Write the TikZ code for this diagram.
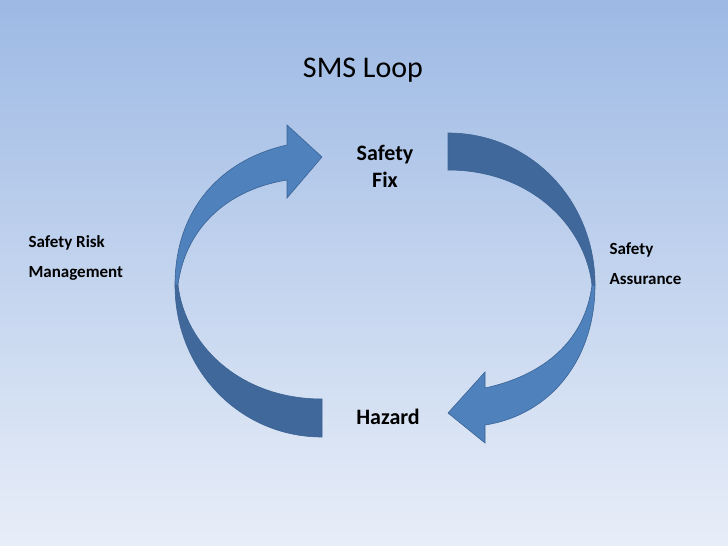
\documentclass[tikz,border=0pt]{standalone}
\usepackage{fontspec}
\setmainfont{Carlito}
\begin{document}
\begin{tikzpicture}[x=1pt,y=-1pt,
  dark/.style={fill=darkb,draw=edgeb,line width=0.6pt},
  light/.style={fill=lightb,draw=edgeb,line width=0.6pt},
  lbl/.style={font=\bfseries\fontsize{22}{27}\selectfont,align=center},
  side/.style={font=\bfseries\fontsize{17}{30}\selectfont,align=left,anchor=west}]
\definecolor{darkb}{HTML}{41689A}
\definecolor{lightb}{HTML}{4F81BD}
\definecolor{edgeb}{HTML}{3A6394}
\definecolor{bgtop}{HTML}{9DB9E4}
\definecolor{bgbot}{HTML}{E8EEF8}
\useasboundingbox (0,0) rectangle (728,546);
\shade[top color=bgtop,bottom color=bgbot] (0,0) rectangle (728,546);
% left arrow
\path[dark] (322,437) .. controls (240,437) and (175,370) .. (175,285)
  -- (178,285) .. controls (185,345) and (240,399) .. (322,399) -- cycle;
\path[light] (175,285) .. controls (175,210) and (220,160) .. (287,145)
  -- (287,125) -- (322,157) -- (287,198) -- (287,180)
  .. controls (225,190) and (185,230) .. (178,285) -- cycle;
% right arrow
\path[dark] (448,133) .. controls (530,133) and (595,200) .. (595,285)
  -- (592,285) .. controls (585,225) and (530,170) .. (448,170) -- cycle;
\path[light] (595,285) .. controls (595,360) and (550,415) .. (485,425)
  -- (485,443) -- (448,413) -- (485,372) -- (485,388)
  .. controls (545,375) and (585,340) .. (592,285) -- cycle;
\node[font=\fontsize{30}{36}\selectfont] (title) at (363,70) {SMS Loop};
\node[lbl] (fix) at (385,166) {Safety\\Fix};
\node[lbl] (hazard) at (388,417) {Hazard};
\node[side] (srm) at (25,258) {Safety Risk\\Management};
\node[side] (sa) at (606,264) {Safety\\Assurance};
\end{tikzpicture}
\end{document}
